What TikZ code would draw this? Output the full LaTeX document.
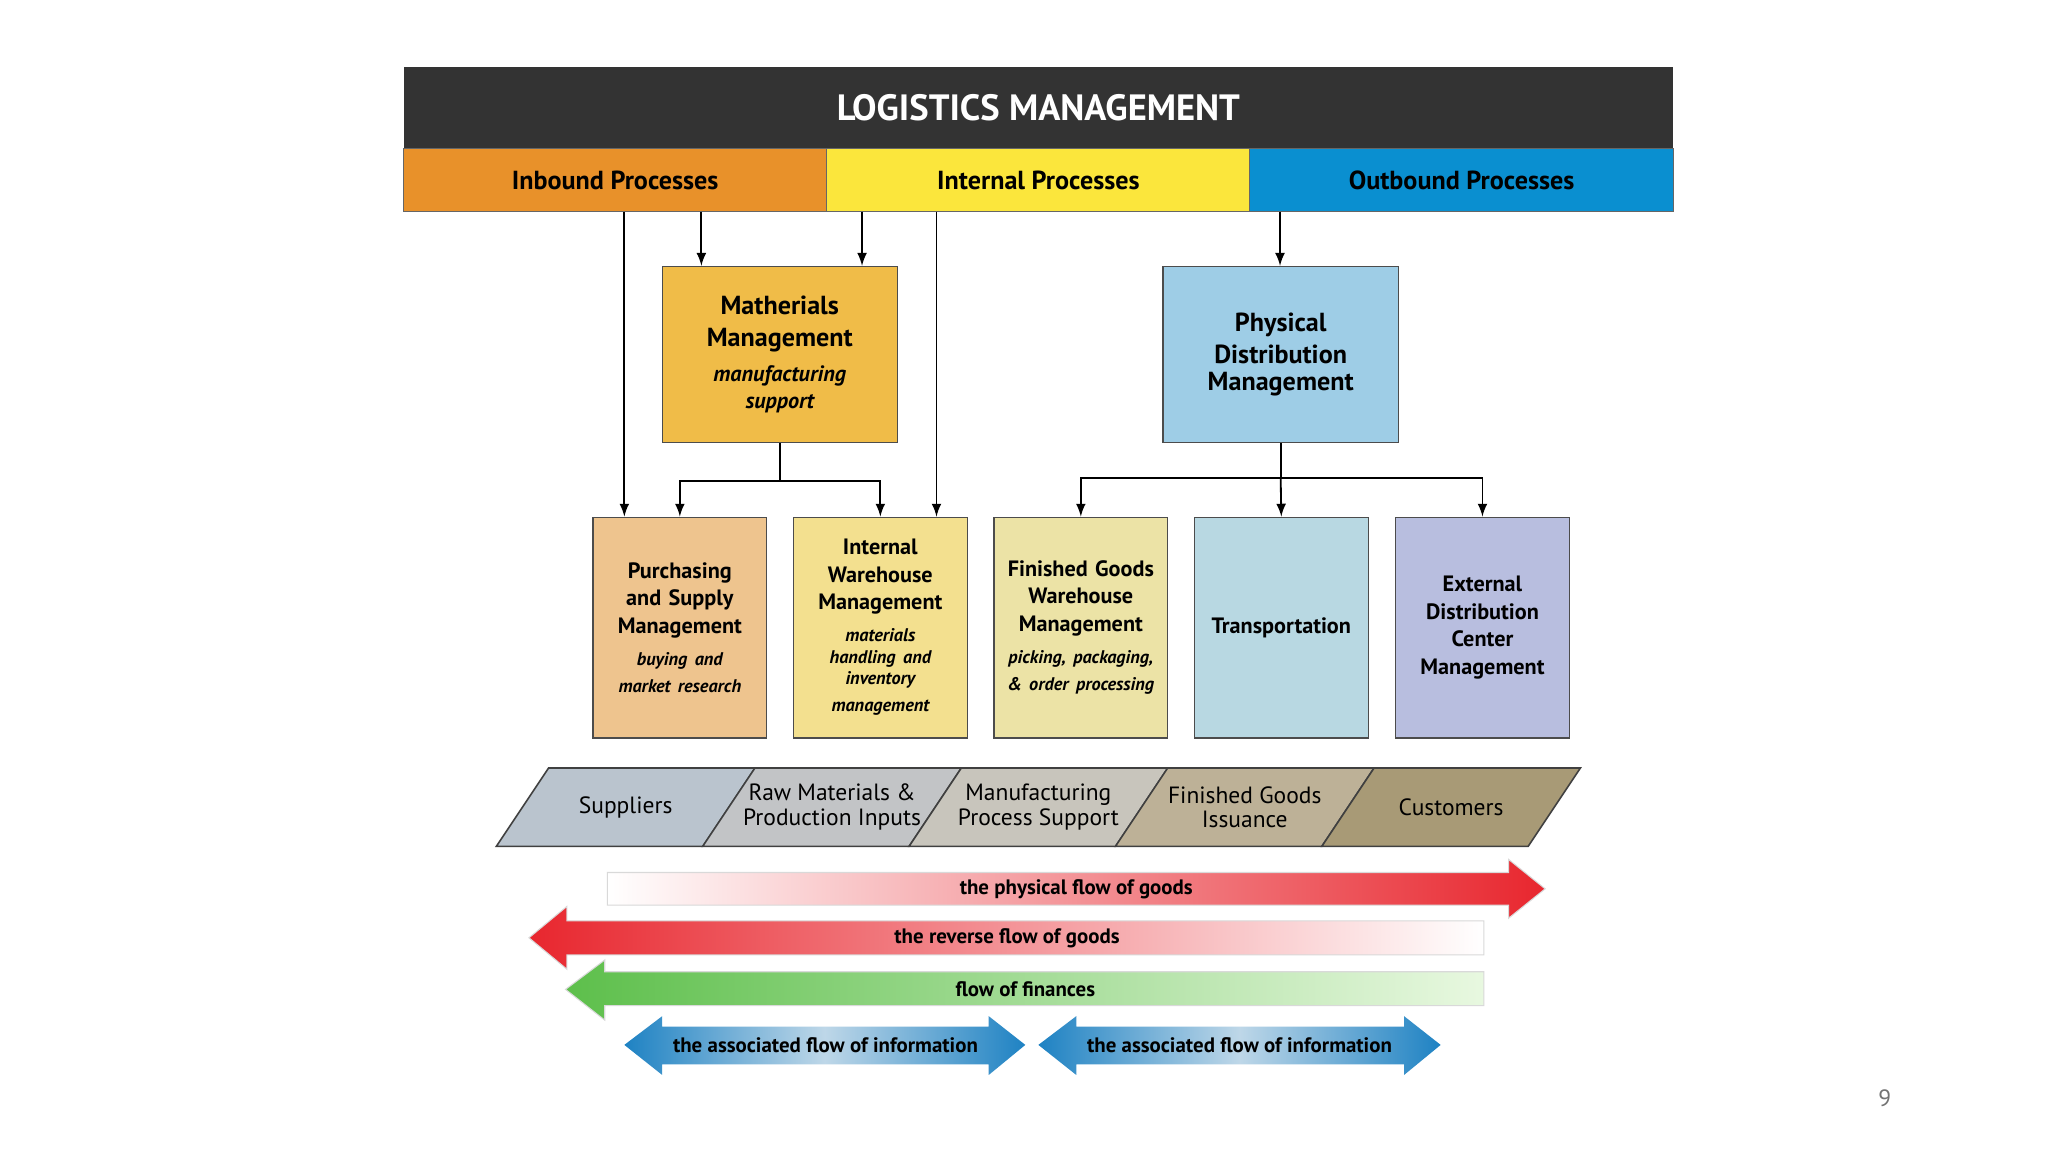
\documentclass[tikz,border=0pt]{standalone}
\usepackage{fontspec}
\setmainfont{PT Sans}
\begin{document}
\begin{tikzpicture}[x=0.5pt,y=-0.5pt,
 box/.style={draw=black!70,line width=0.5pt,align=center,inner sep=1pt,font=\bfseries\fontsize{8.5}{10.5}\selectfont},
 big/.style={box,minimum width=90pt,minimum height=67.5pt,text width=82pt},
 small/.style={box,minimum width=66.5pt,minimum height=84.5pt,text width=62pt},
 hdr/.style={draw=black!60,line width=0.4pt,minimum width=162pt,minimum height=24pt,font=\bfseries\fontsize{10}{12}\selectfont},
 ar/.style={-latex,line width=0.7pt},
 lbl/.style={font=\bfseries\fontsize{8}{10}\selectfont},
 seg/.style={draw=black!75,line width=0.6pt}]
\useasboundingbox[fill=white] (0,0) rectangle (1568,882);
\node[fill=black!80,minimum width=486pt,minimum height=31.5pt,text=white,font=\bfseries\fontsize{14}{16}\selectfont] (title) at (795,82.5) {LOGISTICS MANAGEMENT};
\node[hdr,fill={rgb,255:red,232;green,145;blue,42}] (in) at (471,138) {Inbound Processes};
\node[hdr,fill={rgb,255:red,251;green,230;blue,60}] (int) at (795,138) {Internal Processes};
\node[hdr,fill={rgb,255:red,10;green,143;blue,208}] (out) at (1119,138) {Outbound Processes};
\node[big,fill={rgb,255:red,240;green,188;blue,72}] (mat) at (597,271.5) {\fontsize{10}{12}\selectfont Matherials\\Management\\[4pt]{\itshape\fontsize{8.5}{9.5}\selectfont manufacturing\\support}};
\node[big,fill={rgb,255:red,158;green,205;blue,230}] (phy) at (980.5,271.5) {\fontsize{10}{12}\selectfont Physical\\Distribution\\Management};
\node[small,fill={rgb,255:red,238;green,196;blue,142}] (pur) at (520.5,480.5) {Purchasing\\and Supply\\Management\\[4pt]{\itshape\fontsize{7}{8.2}\selectfont buying and\\market research}};
\node[small,fill={rgb,255:red,243;green,224;blue,143}] (iwm) at (674,480.5) {Internal\\Warehouse\\Management\\[4pt]{\itshape\fontsize{7}{8.2}\selectfont materials\\handling and\\inventory\\management}};
\node[small,fill={rgb,255:red,236;green,227;blue,166}] (fgw) at (827.5,480.5) {Finished Goods\\Warehouse\\Management\\[4pt]{\itshape\fontsize{7}{8.2}\selectfont picking, packaging,\\\& order processing}};
\node[small,fill={rgb,255:red,184;green,216;blue,226}] (tr) at (981,480.5) {Transportation};
\node[small,fill={rgb,255:red,184;green,190;blue,223}] (ext) at (1135,480.5) {External\\Distribution\\Center\\Management};
% connectors
\coordinate (a1) at (478,162); \coordinate (a2) at (537,162); \coordinate (a3) at (660,162); \coordinate (a4) at (717,162); \coordinate (a5) at (980,162);
\draw[ar] (a1) -- (a1 |- pur.north);
\draw[ar] (a2) -- (a2 |- mat.north);
\draw[ar] (a3) -- (a3 |- mat.north);
\draw[ar] (a4) -- (a4 |- iwm.north);
\draw[ar] (a5) -- (a5 |- phy.north);
\coordinate (m) at (597,368); \coordinate (p) at (980.5,366);
\draw[line width=0.7pt] (mat.south) -- (m);
\draw[ar] (m) -| (pur.north);
\draw[ar] (m) -| (iwm.north);
\draw[line width=0.7pt] (phy.south) -- (p);
\draw[ar] (p) -| (fgw.north);
\draw[ar] (p) -- (tr.north);
\draw[ar] (p) -| (ext.north);
% band
\filldraw[seg,fill={rgb,255:red,186;green,196;blue,206}] (420,588)--(578,588)--(538,648)--(380,648)--cycle;
\filldraw[seg,fill={rgb,255:red,194;green,196;blue,198}] (578,588)--(736,588)--(696,648)--(538,648)--cycle;
\filldraw[seg,fill={rgb,255:red,200;green,197;blue,188}] (736,588)--(894,588)--(854,648)--(696,648)--cycle;
\filldraw[seg,fill={rgb,255:red,189;green,177;blue,151}] (894,588)--(1052,588)--(1012,648)--(854,648)--cycle;
\filldraw[seg,fill={rgb,255:red,168;green,154;blue,118}] (1052,588)--(1210,588)--(1170,648)--(1012,648)--cycle;
\tikzset{bt/.style={font=\fontsize{9}{9.5}\selectfont,align=center}}
\node[bt] (s1) at (479,618) {Suppliers};
\node[bt] (s2) at (637,618) {Raw Materials \&\\Production Inputs};
\node[bt] (s3) at (795,618) {Manufacturing\\Process Support};
\node[bt] (s4) at (953,618) {Finished Goods\\Issuance};
\node[bt] (s5) at (1111,618) {Customers};
% flow arrows
\definecolor{fr}{RGB}{232,38,46}
\definecolor{fg}{RGB}{93,191,75}
\definecolor{fb}{RGB}{30,130,195}
\shade[left color=white,right color=fr,draw=black!15] (465,668)--(1155,668)--(1155,658)--(1183,680.5)--(1155,703)--(1155,693)--(465,693)--cycle;
\node[lbl] (f1) at (824,680.5) {the physical flow of goods};
\shade[left color=fr,right color=white,draw=black!15] (1136,705)--(434,705)--(434,694)--(405,718)--(434,742)--(434,731)--(1136,731)--cycle;
\node[lbl] (f2) at (771,718) {the reverse flow of goods};
\shade[left color=fg,right color={rgb,255:red,232;green,248;blue,224},draw=black!15] (1136,744)--(463,744)--(463,735)--(433,757.5)--(463,781)--(463,770)--(1136,770)--cycle;
\node[lbl] (f3) at (785,757) {flow of finances};
\shade[left color=fb,right color=fb,middle color={rgb,255:red,190;green,215;blue,232}] (478,800)--(507,778)--(507,786)--(757,786)--(757,778)--(785,800)--(757,823)--(757,815)--(507,815)--(507,823)--cycle;
\node[lbl] (f4) at (632,800) {the associated flow of information};
\shade[left color=fb,right color=fb,middle color={rgb,255:red,190;green,215;blue,232}] (795,800)--(824,778)--(824,786)--(1075,786)--(1075,778)--(1103,800)--(1075,823)--(1075,815)--(824,815)--(824,823)--cycle;
\node[lbl] (f5) at (949,800) {the associated flow of information};
\node[text=black!55,font=\fontsize{9}{10}\selectfont] (pg) at (1443,841) {9};
\end{tikzpicture}
\end{document}
